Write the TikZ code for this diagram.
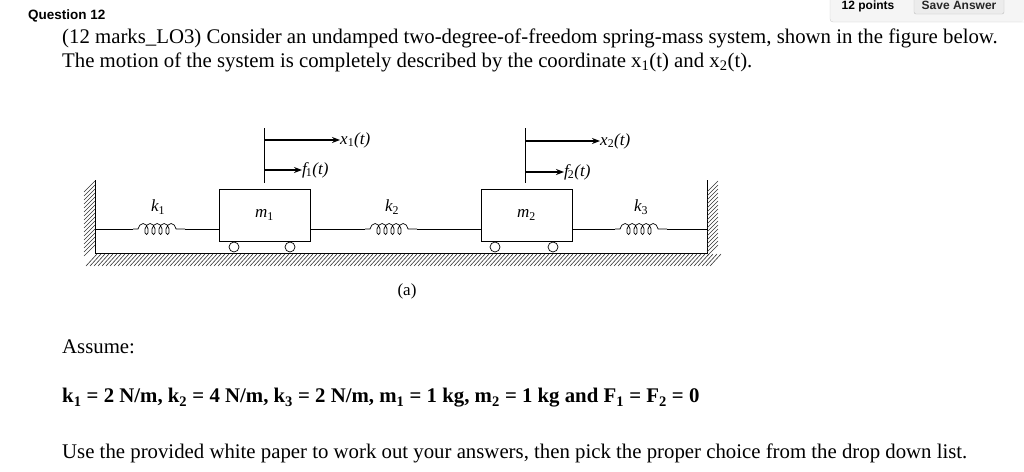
\documentclass[tikz,border=0pt]{standalone}
\usepackage{fontspec}
\setmainfont{Liberation Serif}
\newfontfamily\ui{Liberation Sans}
\usetikzlibrary{decorations.pathmorphing,arrows.meta}
\begin{document}
\begin{tikzpicture}[x=1pt,y=-1pt,
  txt/.style={anchor=west,inner sep=0pt,font=\fontsize{20.8}{23}\selectfont},
  lab/.style={inner sep=0pt,font=\fontsize{17}{18}\selectfont\itshape},
  mass/.style={draw,line width=0.7pt,minimum width=91pt,minimum height=52pt,inner sep=0pt,font=\fontsize{17}{18}\selectfont\itshape},
  wheel/.style={draw,circle,minimum size=10pt,inner sep=0pt,line width=0.7pt},
  line/.style={line width=0.7pt},
  spr/.style={line width=0.7pt,decorate,decoration={coil,aspect=0.6,amplitude=5.5pt,segment length=7pt,pre length=5pt,post length=5pt}},
  arr/.style={-{Stealth[length=8pt,width=6pt]}},
  hatch/.style={line width=0.6pt,gray!40!black}]
\useasboundingbox (0,0) rectangle (1024,471);
% top bar
\fill[gray!8,rounded corners=3pt] (830,-5) rectangle (1024,22);
\draw[gray!40,rounded corners=3pt] (830,-5) -- (830,22) -- (1030,22);
\node[anchor=center,inner sep=0pt,font=\ui\bfseries\fontsize{12}{13}\selectfont] (pts) at (868,6) {12 points};
\node[draw=gray!50,fill=gray!15,rounded corners=2pt,minimum width=90pt,minimum height=18pt,inner sep=0pt,font=\ui\bfseries\fontsize{12}{13}\selectfont,text=gray!30!black] (save) at (959,5) {Save Answer};
\node[anchor=west,inner sep=0pt,font=\ui\bfseries\fontsize{13.5}{15}\selectfont] (q) at (28,16) {Question 12};
\node[txt] (l1) at (62,38) {(12 marks\_LO3) Consider an undamped two-degree-of-freedom spring-mass system, shown in the figure below.};
\node[txt] (l2) at (62,62) {The motion of the system is completely described by the coordinate x\textsubscript{1}(t) and x\textsubscript{2}(t).};
\node[txt] (as) at (62,347) {Assume:};
\node[txt,font=\fontsize{20.8}{23}\selectfont\bfseries] (eq) at (62,398) {k\textsubscript{1} = 2 N/m, k\textsubscript{2} = 4 N/m, k\textsubscript{3} = 2 N/m, m\textsubscript{1} = 1 kg, m\textsubscript{2} = 1 kg and F\textsubscript{1} = F\textsubscript{2} = 0};
\node[txt] (l3) at (62,453) {Use the provided white paper to work out your answers, then pick the proper choice from the drop down list.};
% walls and floor
\coordinate (lw) at (95,180); \coordinate (lf) at (95,253);
\coordinate (rw) at (707,180); \coordinate (rf) at (707,253);
\draw[line] (lw) -- (lf) -- (rf) -- (rw);
\foreach \y in {186,190,...,253} \draw[hatch] (84,\y+6) -- (95,\y-5);
\foreach \y in {186,190,...,253} \draw[hatch] (707,\y+6) -- (718,\y-5);
\foreach \x in {86,90,...,712} \draw[hatch] (\x,266) -- (\x+11,254);
% masses
\node[mass] (m1) at (264.5,215) {m\textsubscript{\upshape 1}};
\node[mass] (m2) at (526.5,215) {m\textsubscript{\upshape 2}};
\node[wheel] (w1) at (234,247) {}; \node[wheel] (w2) at (290,247) {};
\node[wheel] (w3) at (495,247) {}; \node[wheel] (w4) at (553,247) {};
% springs
\coordinate (s1) at (95,229); \coordinate (s1e) at (219,229);
\coordinate (s2) at (310,229); \coordinate (s2e) at (481,229);
\coordinate (s3) at (572,229); \coordinate (s3e) at (707,229);
\draw[line] (s1) -- (133,229); \draw[spr] (133,229) -- (185,229); \draw[line] (185,229) -- (s1e);
\draw[line] (s2) -- (365,229); \draw[spr] (365,229) -- (417,229); \draw[line] (417,229) -- (s2e);
\draw[line] (s3) -- (615,229); \draw[spr] (615,229) -- (667,229); \draw[line] (667,229) -- (s3e);
\node[lab] (k1) at (158,207) {k\textsubscript{\upshape 1}};
\node[lab] (k2) at (392,207) {k\textsubscript{\upshape 2}};
\node[lab] (k3) at (641,207) {k\textsubscript{\upshape 3}};
% displacement / force arrows
\coordinate (v1t) at (264,128); \coordinate (v1b) at (264,183);
\coordinate (v2t) at (525,128); \coordinate (v2b) at (525,183);
\draw[line] (v1t) -- (v1b); \draw[line] (v2t) -- (v2b);
\node[lab,anchor=west] (x1) at (340,140) {x\textsubscript{\upshape 1}(t)};
\node[lab,anchor=west] (f1) at (302,170) {f\kern-1pt\textsubscript{\upshape 1}(t)};
\node[lab,anchor=west] (x2) at (600,141) {x\textsubscript{\upshape 2}(t)};
\node[lab,anchor=west] (f2) at (564,172) {f\kern-1pt\textsubscript{\upshape 2}(t)};
\draw[arr,line width=2.2pt] (264,140) -- (x1.west);
\draw[arr,line width=1.5pt] (264,170) -- (f1.west);
\draw[arr,line width=2.2pt] (525,141) -- (x2.west);
\draw[arr,line width=1.5pt] (525,172) -- (f2.west);
\node[inner sep=0pt,font=\fontsize{17}{18}\selectfont] (a) at (407,291) {(a)};
\end{tikzpicture}
\end{document}
